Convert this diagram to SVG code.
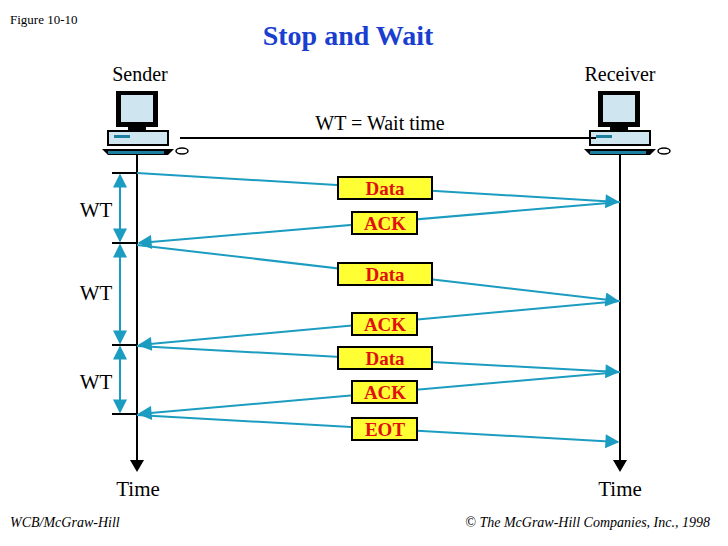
<svg xmlns="http://www.w3.org/2000/svg" width="728" height="546" viewBox="0 0 728 546">
<style>
.t{font-family:"Liberation Serif","Times New Roman","DejaVu Serif",serif;fill:#000}
.c{stroke:#1b9cc0;stroke-width:2;fill:none}
.bx{fill:#ffff33;stroke:#000;stroke-width:2}
.lb{font-family:"Liberation Serif","Times New Roman","DejaVu Serif",serif;font-weight:bold;font-size:19px;fill:#e01010;text-anchor:middle}
.blk{stroke:#000;stroke-width:2}
</style>
<defs>
<marker id="m" viewBox="0 0 10 10" refX="9" refY="5" markerWidth="18" markerHeight="14" orient="auto-start-reverse" markerUnits="userSpaceOnUse"><path d="M0,0L10,5L0,10z" fill="#1b9cc0"/></marker>
<g id="pc">
<rect x="14" y="0" width="42" height="36" fill="#000"/>
<rect x="19" y="4" width="32" height="27" fill="#cfe6f0"/>
<rect x="26" y="36" width="18" height="4" fill="#000"/>
<rect x="6" y="40" width="60" height="14" fill="#cfe6f0" stroke="#000" stroke-width="2"/>
<rect x="12" y="44" width="16" height="3" fill="#1b7fa0"/>
<path d="M0,58 L72,58 L66,64 L6,64 Z" fill="#000"/>
<rect x="6" y="60" width="56" height="3" fill="#1b7fa0"/>
<ellipse cx="80" cy="60" rx="6" ry="3" fill="#fff" stroke="#000" stroke-width="1.5"/>
</g>
</defs>
<rect width="728" height="546" fill="#fff"/>
<text x="10" y="24" class="t" font-size="13">Figure 10-10</text>
<text x="348" y="45" class="t" font-weight="bold" font-size="28" style="fill:#1a3fd0" text-anchor="middle">Stop and Wait</text>
<text x="140" y="81" class="t" font-size="20" text-anchor="middle">Sender</text>
<text x="620" y="81" class="t" font-size="20" text-anchor="middle">Receiver</text>
<g id="sender"><use href="#pc" x="102" y="91"/></g>
<g id="receiver"><use href="#pc" x="584" y="91"/></g>
<line x1="180" y1="138" x2="596" y2="138" class="blk"/>
<text x="380" y="130" class="t" font-size="20" text-anchor="middle">WT = Wait time</text>
<g id="timelines">
<line x1="137" y1="155" x2="137" y2="462" class="blk"/>
<path d="M130,460 L144,460 L137,472 Z" fill="#000"/>
<line x1="620" y1="155" x2="620" y2="462" class="blk"/>
<path d="M613,460 L627,460 L620,472 Z" fill="#000"/>
<text x="138" y="496" class="t" font-size="21" text-anchor="middle">Time</text>
<text x="620" y="496" class="t" font-size="21" text-anchor="middle">Time</text>
</g>
<g id="wt">
<line x1="112" y1="173" x2="137" y2="173" class="blk"/>
<line x1="112" y1="243" x2="137" y2="243" class="blk"/>
<line x1="112" y1="345" x2="137" y2="345" class="blk"/>
<line x1="112" y1="414" x2="137" y2="414" class="blk"/>
<line x1="120" y1="175" x2="120" y2="241" class="c" marker-start="url(#m)" marker-end="url(#m)"/>
<line x1="120" y1="245" x2="120" y2="343" class="c" marker-start="url(#m)" marker-end="url(#m)"/>
<line x1="120" y1="347" x2="120" y2="412" class="c" marker-start="url(#m)" marker-end="url(#m)"/>
<text x="96" y="217" class="t" font-size="21" text-anchor="middle">WT</text>
<text x="96" y="300" class="t" font-size="21" text-anchor="middle">WT</text>
<text x="96" y="389" class="t" font-size="21" text-anchor="middle">WT</text>
</g>
<g id="connectors">
<line x1="137" y1="173" x2="618" y2="202" class="c" marker-end="url(#m)"/>
<line x1="620" y1="202" x2="139" y2="243" class="c" marker-end="url(#m)"/>
<line x1="137" y1="245" x2="618" y2="301" class="c" marker-end="url(#m)"/>
<line x1="620" y1="301" x2="139" y2="345" class="c" marker-end="url(#m)"/>
<line x1="137" y1="346" x2="618" y2="372" class="c" marker-end="url(#m)"/>
<line x1="620" y1="372" x2="139" y2="414" class="c" marker-end="url(#m)"/>
<line x1="137" y1="415" x2="618" y2="442" class="c" marker-end="url(#m)"/>
</g>
<g id="l1"><rect x="338" y="177" width="94" height="22" class="bx"/><text x="385" y="195" class="lb">Data</text></g>
<g id="l2"><rect x="352" y="212" width="65" height="22" class="bx"/><text x="385" y="230" class="lb">ACK</text></g>
<g id="l3"><rect x="338" y="263" width="94" height="22" class="bx"/><text x="385" y="281" class="lb">Data</text></g>
<g id="l4"><rect x="352" y="313" width="65" height="22" class="bx"/><text x="385" y="331" class="lb">ACK</text></g>
<g id="l5"><rect x="338" y="347" width="94" height="22" class="bx"/><text x="385" y="365" class="lb">Data</text></g>
<g id="l6"><rect x="352" y="381" width="65" height="22" class="bx"/><text x="385" y="399" class="lb">ACK</text></g>
<g id="l7"><rect x="352" y="418" width="65" height="22" class="bx"/><text x="385" y="436" class="lb">EOT</text></g>
<text x="10" y="527" class="t" font-style="italic" font-size="14">WCB/McGraw-Hill</text>
<text x="710" y="527" class="t" font-style="italic" font-size="14" text-anchor="end">© The McGraw-Hill Companies, Inc., 1998</text>
</svg>
